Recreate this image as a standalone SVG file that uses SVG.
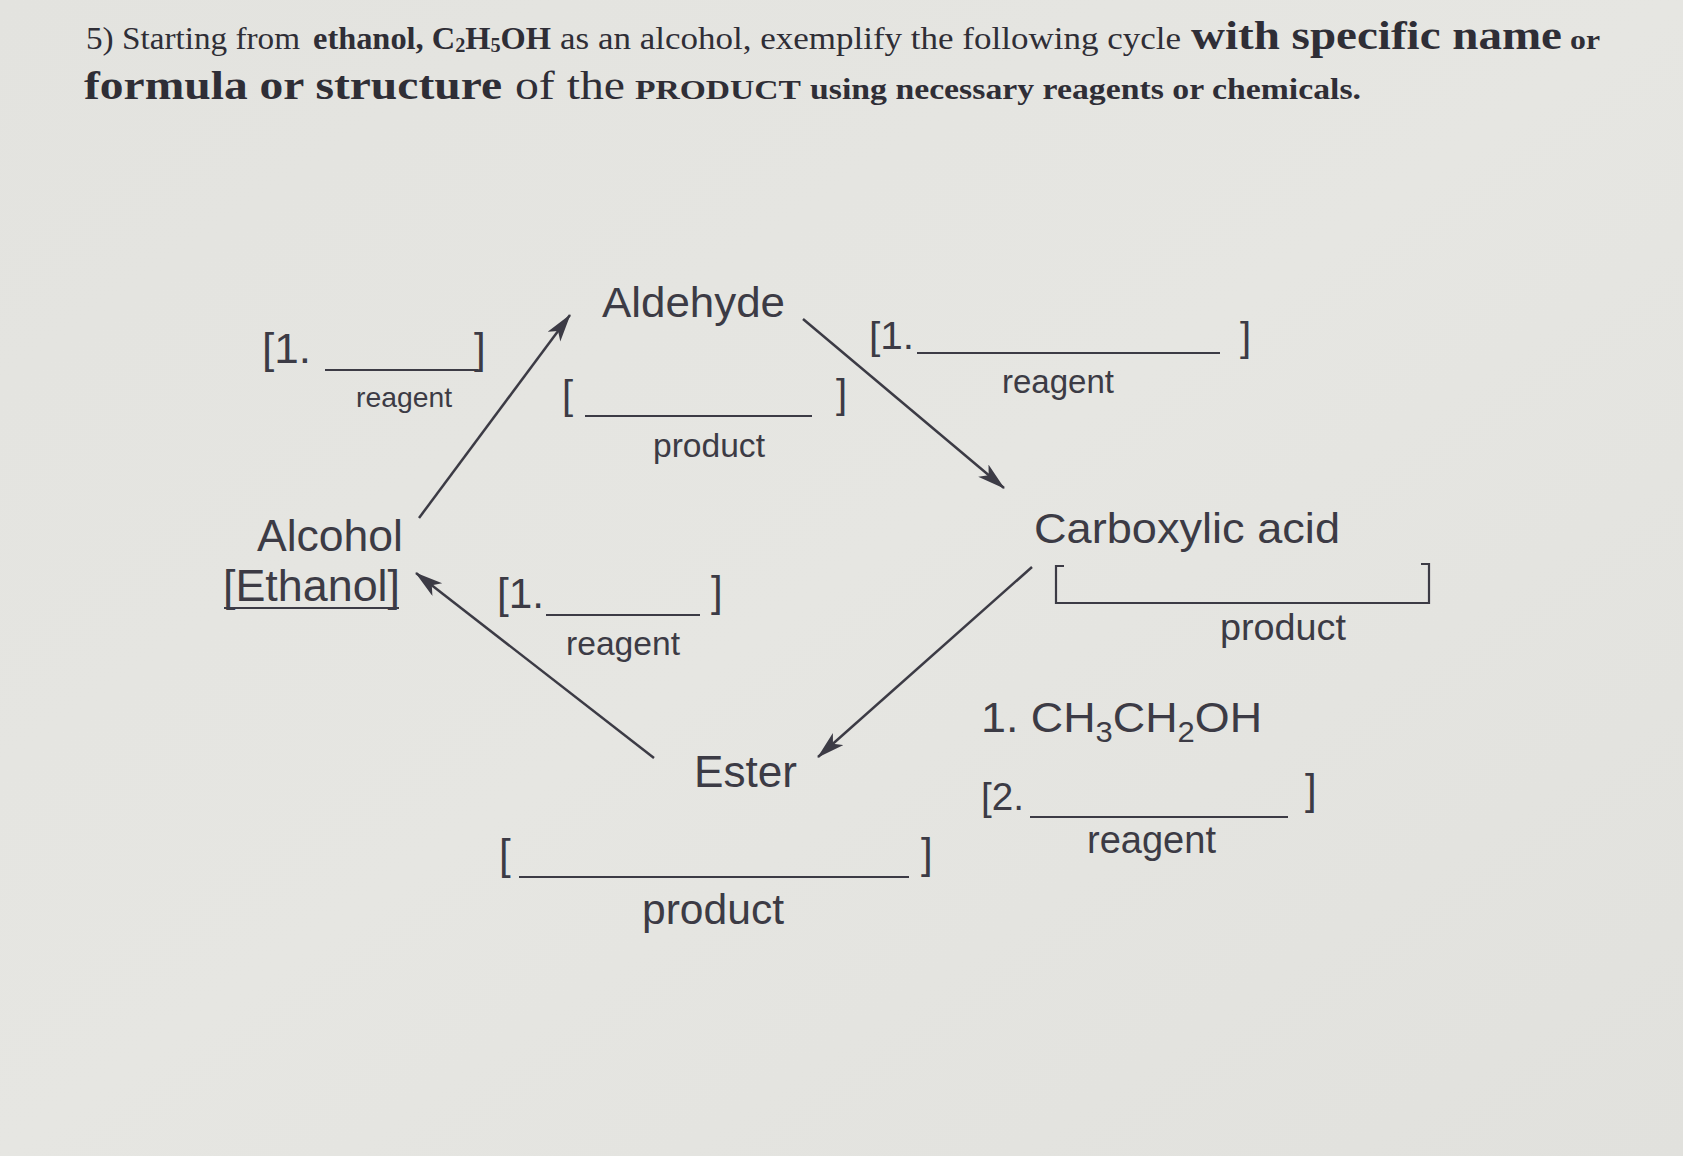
<svg xmlns="http://www.w3.org/2000/svg" width="1683" height="1156" viewBox="0 0 1683 1156">
<style>
.bg{fill:url(#paper)}
.t{font-family:"Liberation Serif","Times New Roman",serif;fill:#2f2e36}
.b{font-weight:bold}
.s{font-family:"Liberation Sans",Arial,sans-serif;fill:#3c3b45}
.ln{stroke:#3c3b45;stroke-width:2.5;fill:none}
.ul{stroke:#3c3b45;stroke-width:2.2;fill:none}
</style>
<defs>
<linearGradient id="paper" x1="0" y1="0" x2="1" y2="1">
<stop offset="0" stop-color="#e3e3df"/>
<stop offset="0.5" stop-color="#e6e6e2"/>
<stop offset="1" stop-color="#e1e1dd"/>
</linearGradient>
<marker id="arr" markerUnits="userSpaceOnUse" markerWidth="30" markerHeight="18" refX="27" refY="8" orient="auto">
<path d="M0,0 L28,8 L0,16 L7,8 z" fill="#3c3b45"/>
</marker>
</defs>
<rect class="bg" x="0" y="0" width="1683" height="1156"/>

<g id="title">
<text class="t" x="86" y="49" font-size="32" textLength="214" lengthAdjust="spacingAndGlyphs">5) Starting from</text>
<text class="t b" x="313" y="49" font-size="32" textLength="238" lengthAdjust="spacingAndGlyphs">ethanol, C<tspan font-size="20" dy="3">2</tspan><tspan dy="-3">H</tspan><tspan font-size="20" dy="3">5</tspan><tspan dy="-3">OH</tspan></text>
<text class="t" x="560" y="49" font-size="32" textLength="621" lengthAdjust="spacingAndGlyphs">as an alcohol, exemplify the following cycle</text>
<text class="t b" x="1191" y="49" font-size="40" textLength="371" lengthAdjust="spacingAndGlyphs">with specific name</text>
<text class="t b" x="1570" y="49" font-size="28" textLength="30" lengthAdjust="spacingAndGlyphs">or</text>
<text class="t b" x="84" y="99" font-size="41" textLength="418" lengthAdjust="spacingAndGlyphs">formula or structure</text>
<text class="t" x="515" y="99" font-size="40" textLength="110" lengthAdjust="spacingAndGlyphs">of the</text>
<text class="t b" x="635" y="99" font-size="28" textLength="166" lengthAdjust="spacingAndGlyphs">PRODUCT</text>
<text class="t b" x="810" y="99" font-size="30" textLength="551" lengthAdjust="spacingAndGlyphs">using necessary reagents or chemicals.</text>
</g>

<g id="connectors">
<line class="ln" x1="419" y1="518" x2="570" y2="315" marker-end="url(#arr)"/>
<line class="ln" x1="803" y1="319" x2="1004" y2="488" marker-end="url(#arr)"/>
<line class="ln" x1="1032" y1="567" x2="818" y2="757" marker-end="url(#arr)"/>
<line class="ln" x1="654" y1="758" x2="416" y2="573" marker-end="url(#arr)"/>
</g>

<g id="node-alcohol">
<text class="s" x="257" y="551" font-size="44" textLength="146" lengthAdjust="spacingAndGlyphs">Alcohol</text>
<text class="s" x="223" y="601" font-size="44" textLength="177" lengthAdjust="spacingAndGlyphs">[Ethanol]</text>
<line class="ul" x1="224" y1="608" x2="399" y2="608"/>
</g>

<g id="node-aldehyde">
<text class="s" x="602" y="317" font-size="42" textLength="183" lengthAdjust="spacingAndGlyphs">Aldehyde</text>
<text class="s" x="562" y="409" font-size="40">[</text>
<line class="ul" x1="585" y1="416" x2="812" y2="416"/>
<text class="s" x="836" y="408" font-size="40">]</text>
<text class="s" x="653" y="457" font-size="33" textLength="112" lengthAdjust="spacingAndGlyphs">product</text>
</g>

<g id="node-carboxylic-acid">
<text class="s" x="1034" y="543" font-size="42" textLength="306" lengthAdjust="spacingAndGlyphs">Carboxylic acid</text>
<path class="ul" d="M1064,566 H1056 V603 H1429 V564 H1421"/>
<text class="s" x="1220" y="640" font-size="36" textLength="126" lengthAdjust="spacingAndGlyphs">product</text>
</g>

<g id="node-ester">
<text class="s" x="694" y="787" font-size="44" textLength="103" lengthAdjust="spacingAndGlyphs">Ester</text>
<text class="s" x="499" y="869" font-size="42">[</text>
<line class="ul" x1="519" y1="877" x2="909" y2="877"/>
<text class="s" x="921" y="868" font-size="42">]</text>
<text class="s" x="642" y="924" font-size="42" textLength="142" lengthAdjust="spacingAndGlyphs">product</text>
</g>

<g id="reagent-alcohol-to-aldehyde">
<text class="s" x="262" y="363" font-size="42" textLength="49" lengthAdjust="spacingAndGlyphs">[1.</text>
<line class="ul" x1="325" y1="370" x2="478" y2="370"/>
<text class="s" x="474" y="363" font-size="42">]</text>
<text class="s" x="356" y="407" font-size="28" textLength="96" lengthAdjust="spacingAndGlyphs">reagent</text>
</g>

<g id="reagent-aldehyde-to-acid">
<text class="s" x="869" y="349" font-size="38" textLength="45" lengthAdjust="spacingAndGlyphs">[1.</text>
<line class="ul" x1="917" y1="353" x2="1220" y2="353"/>
<text class="s" x="1240" y="351" font-size="40">]</text>
<text class="s" x="1002" y="393" font-size="33" textLength="112" lengthAdjust="spacingAndGlyphs">reagent</text>
</g>

<g id="reagent-acid-to-ester">
<text class="s" x="981" y="732" font-size="42" textLength="281" lengthAdjust="spacingAndGlyphs">1. CH<tspan font-size="29" dy="10">3</tspan><tspan dy="-10">CH</tspan><tspan font-size="29" dy="10">2</tspan><tspan dy="-10">OH</tspan></text>
<text class="s" x="981" y="810" font-size="38" textLength="43" lengthAdjust="spacingAndGlyphs">[2.</text>
<line class="ul" x1="1030" y1="817" x2="1288" y2="817"/>
<text class="s" x="1305" y="804" font-size="42">]</text>
<text class="s" x="1087" y="853" font-size="38" textLength="129" lengthAdjust="spacingAndGlyphs">reagent</text>
</g>

<g id="reagent-ester-to-alcohol">
<text class="s" x="497" y="608" font-size="42" textLength="47" lengthAdjust="spacingAndGlyphs">[1.</text>
<line class="ul" x1="546" y1="615" x2="700" y2="615"/>
<text class="s" x="711" y="606" font-size="42">]</text>
<text class="s" x="566" y="655" font-size="33" textLength="114" lengthAdjust="spacingAndGlyphs">reagent</text>
</g>
</svg>
